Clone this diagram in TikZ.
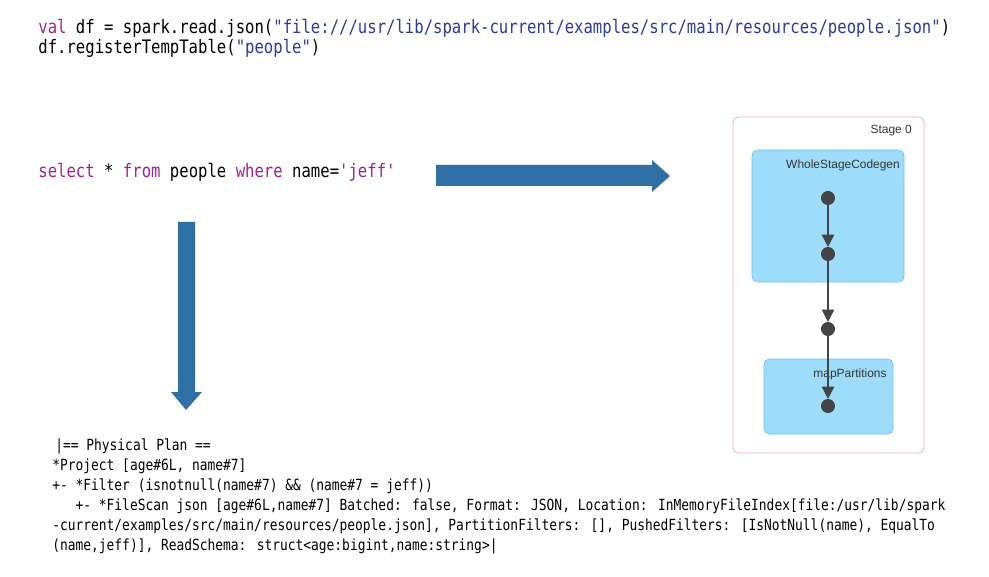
\documentclass[tikz,border=0pt]{standalone}
\usepackage{fontspec}
\setmainfont{Liberation Sans}
\newfontfamily\codefont{DejaVu Sans Mono}[Scale=0.92,FakeStretch=0.84]
\usetikzlibrary{arrows.meta}
\definecolor{kwpurple}{HTML}{9B2393}
\definecolor{strblue}{HTML}{2A3A9E}
\definecolor{bigarrow}{HTML}{2E6FA5}
\definecolor{stagepink}{HTML}{F4A6BD}
\definecolor{opblue}{HTML}{9EDDFA}
\definecolor{opedge}{HTML}{6CC3EE}
\definecolor{dotgray}{HTML}{444444}
\newcommand{\kw}[1]{{\color{kwpurple}#1}}
\newcommand{\str}[1]{{\color{strblue}#1}}
\tikzset{
  code/.style={anchor=west, inner sep=0pt, font=\codefont\fontsize{11.5}{12}\selectfont},
  plan/.style={anchor=west, inner sep=0pt, font=\codefont\fontsize{9.5}{11}\selectfont},
  label/.style={font=\fontsize{6.8}{8}\selectfont, text=black!80},
  opbox/.style={fill=opblue, draw=opedge, rounded corners=3pt},
  dot/.style={circle, fill=dotgray, inner sep=0pt, minimum size=8pt},
  flow/.style={-{Triangle[length=7pt,width=7pt]}, thick, dotgray, shorten >=4pt},
}
\begin{document}
\begin{tikzpicture}[x=0.02cm, y=-0.02cm]
  \useasboundingbox (0,0) rectangle (989,577);

  % code on top
  \node[code] (read) at (38,28) {\kw{val} df = spark.read.json(\str{"file:///usr/lib/spark-current/examples/src/main/resources/people.json"})};
  \node[code] (reg) at (38,48) {df.registerTempTable(\str{"people"})};
  \node[code] (query) at (38,172) {\kw{select} * \kw{from} people \kw{where} name=\kw{'jeff'}};

  % big arrows
  \fill[bigarrow] (436,165) -- (652,165) -- (652,160) -- (670,176) -- (652,192) -- (652,186) -- (436,186) -- cycle;
  \fill[bigarrow] (178,222) -- (195,222) -- (195,392) -- (202,392) -- (186,410) -- (171,392) -- (178,392) -- cycle;

  % physical plan
  \node[plan] (p1) at (55,446) {|== Physical Plan ==};
  \node[plan] (p2) at (52,466) {*Project [age\#6L, name\#7]};
  \node[plan] (p3) at (52,486) {+- *Filter (isnotnull(name\#7) \&\& (name\#7 = jeff))};
  \node[plan] (p4) at (52,506) {\ \ \ +- *FileScan json [age\#6L,name\#7] Batched: false, Format: JSON, Location: InMemoryFileIndex[file:/usr/lib/spark};
  \node[plan] (p5) at (52,526) {-current/examples/src/main/resources/people.json], PartitionFilters: [], PushedFilters: [IsNotNull(name), EqualTo};
  \node[plan] (p6) at (52,546) {(name,jeff)], ReadSchema: struct<age:bigint,name:string>|};

  % stage graph
  \draw[stagepink, rounded corners=3pt] (733,117) rectangle (924,453);
  \node[label, anchor=east] (stage) at (918,131) {Stage 0};
  \draw[opbox] (752,150) rectangle (904,282);
  \node[label] (wscg) at (843,165) {WholeStageCodegen};
  \draw[opbox] (764,359) rectangle (893,434);
  \node[label] (mapp) at (850,374) {mapPartitions};

  \node[dot] (d1) at (828,198) {};
  \node[dot] (d2) at (828,254) {};
  \node[dot] (d3) at (828,329) {};
  \node[dot] (d4) at (828,406) {};
  \draw[flow] (d1.center) -- (d2.center);
  \draw[flow] (d2.center) -- (d3.center);
  \draw[flow] (d3.center) -- (d4.center);
\end{tikzpicture}
\end{document}
